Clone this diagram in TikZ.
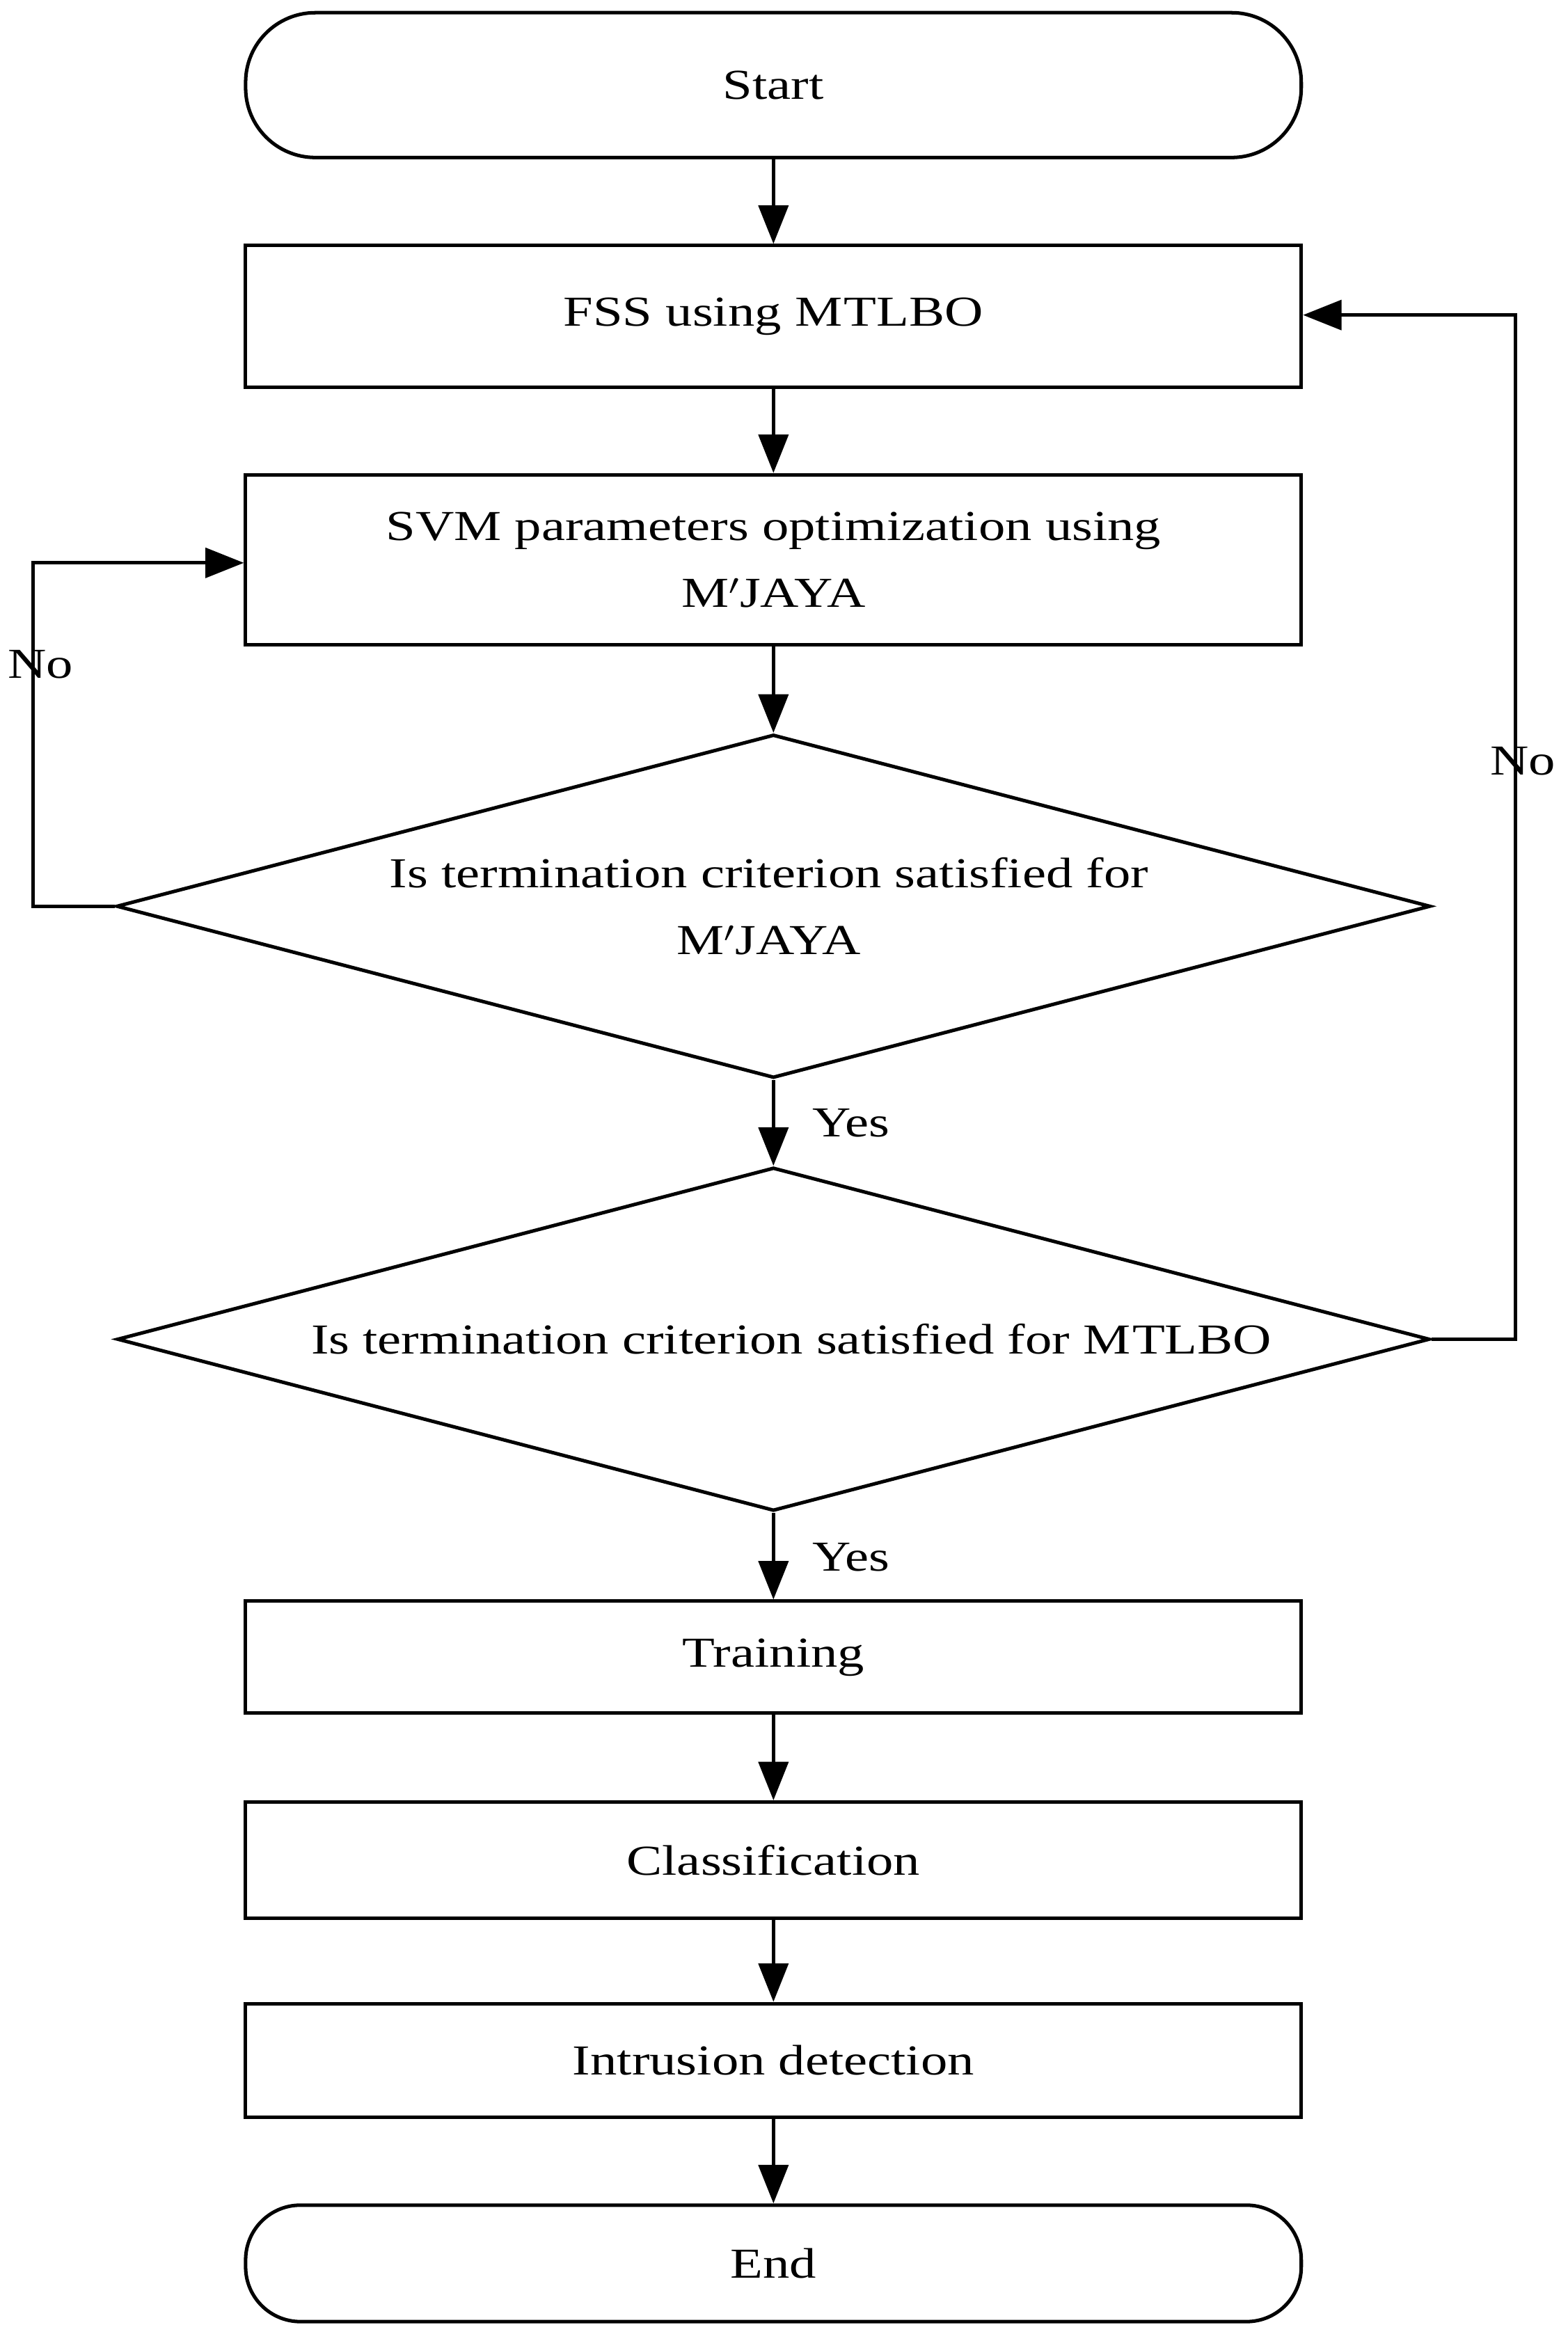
\documentclass[tikz,border=0pt]{standalone}
\usepackage{fontspec}
\setmainfont{Liberation Serif}
\usetikzlibrary{arrows.meta,shapes.geometric}
\newcommand{\ft}[1]{\scalebox{1}[0.8]{#1}}
\begin{document}
\begin{tikzpicture}[x=0.03cm,y=-0.03cm,
  every node/.style={font=\fontsize{30.5}{36}\selectfont},
  box/.style={draw,line width=2pt,minimum width=707*0.03cm,inner sep=0pt},
  term/.style={box},
  dia/.style={draw,line width=2pt,diamond,aspect=3.8,inner sep=0pt,minimum width=880*0.03cm,minimum height=230*0.03cm},
  lbl/.style={draw=none,inner sep=0pt},
  arr/.style={line width=2pt,-{Triangle[length=22pt,width=17pt]}}]
\useasboundingbox (0,0) rectangle (1050,1568);
\node[term,rounded corners=1.4cm,minimum height=97*0.03cm] (start) at (518,57) {\ft{Start}};
\node[box,minimum height=95*0.03cm] (fss) at (518,212) {\ft{FSS using M\hspace{1pt}TLBO}};
\node[box,minimum height=114*0.03cm,align=center] (svm) at (518,375) {\ft{SVM parameters optimization using}\\[2pt]\ft{M$'$JAYA}};
\node[dia] (d1) at (518,607) {};
\node[lbl,align=center] at (515,607) {\ft{Is termination criterion satisfied for}\\[2pt]\ft{M$'$JAYA}};
\node[dia,minimum width=879*0.03cm] (d2) at (518,897) {};
\node[lbl] at (530,897) {\ft{Is termination criterion satisfied for M\hspace{1pt}TLBO}};
\node[box,minimum height=75*0.03cm] (train) at (518,1110) {\ft{Training}};
\node[box,minimum height=78*0.03cm] (cls) at (518,1246) {\ft{Classification}};
\node[box,minimum height=76*0.03cm] (intr) at (518,1380) {\ft{Intrusion detection}};
\node[term,rounded corners=1.1cm,minimum height=78*0.03cm] (end) at (518,1516) {\ft{End}};
\draw[arr] (start) -- (fss);
\draw[arr] (fss) -- (svm);
\draw[arr] (svm) -- (d1);
\draw[arr] (d1) -- (d2);
\draw[arr] (d2) -- (train);
\draw[arr] (train) -- (cls);
\draw[arr] (cls) -- (intr);
\draw[arr] (intr) -- (end);
\coordinate (l1) at (22,607);
\coordinate (l2) at (22,377);
\draw[arr] (d1.west) -- (l1) -- (l2) -- (svm.west |- l2);
\coordinate (r1) at (1015,897);
\coordinate (r2) at (1015,211);
\draw[arr] (d2.east) -- (r1) -- (r2) -- (fss.east |- r2);
\node[lbl] (no1) at (27,445) {\ft{No}};
\node[lbl] (no2) at (1020,510) {\ft{No}};
\node[lbl] (y1) at (570,752) {\ft{Yes}};
\node[lbl] (y2) at (570,1043) {\ft{Yes}};
\end{tikzpicture}
\end{document}
